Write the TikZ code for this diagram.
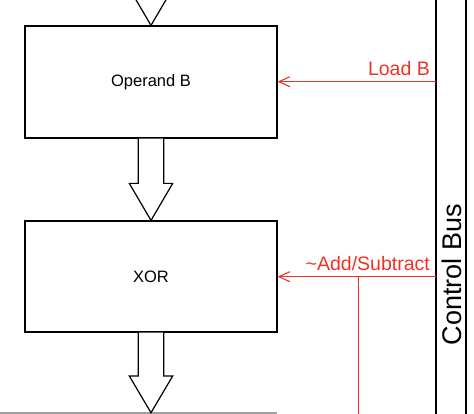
\documentclass[tikz,border=0pt]{standalone}
\usepackage{fontspec}
\setmainfont{Liberation Sans}
\usetikzlibrary{arrows.meta}
\definecolor{sigred}{RGB}{236,52,38}
\begin{document}
\begin{tikzpicture}[x=1pt,y=-1pt,
  box/.style={draw=black,line width=1.2pt,minimum width=252pt,inner sep=0pt,font=\fontsize{16.5}{18}\selectfont},
  sig/.style={draw=sigred,line width=1.1pt},
  sigarrow/.style={sig,-{Straight Barb[length=11pt,width=10pt]}},
  siglabel/.style={text=sigred,font=\fontsize{19.5}{21}\selectfont,anchor=base east,inner sep=0pt},
  blockarrow/.style={draw=black,fill=white,line width=1.2pt,line join=miter},
  busbox/.style={draw=black,line width=1.3pt,minimum width=30pt,minimum height=440pt,inner sep=0pt},
  buslabel/.style={rotate=90,font=\fontsize{27}{30}\selectfont,inner sep=0pt},
  edge/.style={draw=gray!75,line width=2.5pt}]
\useasboundingbox (0,0) rectangle (474,414);
\clip (0,0) rectangle (474,414);
% boxes
\node[box,minimum height=112pt] (opb) at (151,82) {Operand B};
\node[box,minimum height=111pt] (xor) at (151,276.5) {XOR};
% control bus
\node[busbox] (bus) at (451,207) {};
\node[buslabel] (bustext) at (451.5,274.5) {Control Bus};
% next box edge
\coordinate (nl) at (0,413.3);
\coordinate (nr) at (277,413.3);
\draw[edge] (nl) -- (nr);
% block arrows
\coordinate (topin) at (151,-20);
\coordinate (nexttip) at (151,412.7);
\draw[blockarrow] ([xshift=-12.7pt]topin) |- ([xshift=-21.7pt,yshift=37pt]opb.north) -- (opb.north) -- ([xshift=21.7pt,yshift=37pt]opb.north) -| ([xshift=12.7pt]topin);
\draw[blockarrow] ([xshift=-12.7pt]opb.south) |- ([xshift=-21.7pt,yshift=37pt]xor.north) -- (xor.north) -- ([xshift=21.7pt,yshift=37pt]xor.north) -| ([xshift=12.7pt]opb.south);
\draw[blockarrow] ([xshift=-12.7pt]xor.south) |- ([xshift=-21.7pt,yshift=36.7pt]nexttip) -- (nexttip) -- ([xshift=21.7pt,yshift=36.7pt]nexttip) -| ([xshift=12.7pt]xor.south);
% control signals
\coordinate (lbs) at (436,81.7);
\draw[sigarrow] (lbs) -- (opb.east |- lbs);
\node[siglabel] (lbl) at (430,76) {Load B};
\coordinate (ass) at (436,276.7);
\draw[sigarrow] (ass) -- (xor.east |- ass);
\node[siglabel] (asl) at (430,270) {\textasciitilde Add/Subtract};
\coordinate (tap) at (358.7,276.7);
\coordinate (tapend) at (358.7,420);
\draw[sig] (tap) -- (tapend);
\end{tikzpicture}
\end{document}
